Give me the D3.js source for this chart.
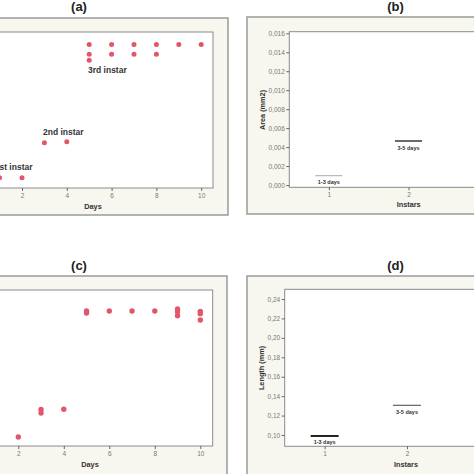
<!DOCTYPE html>
<html><head><meta charset="utf-8">
<script src="https://cdn.jsdelivr.net/npm/d3@7"></script>
<style>html,body{margin:0;padding:0;background:#fff;}svg{display:block;}</style>
</head><body>
<svg id="c" width="474" height="474"></svg>
<script>
// ---- data ----
// (a) area vs days
const daysA = [1, 2, 3, 4, 5, 5, 5, 6, 6, 7, 7, 8, 8, 9, 10];
const areaA = [0.00077, 0.00077, 0.00445, 0.00456, 0.01481, 0.01379, 0.01316, 0.01481, 0.01379, 0.01481, 0.01379, 0.01481, 0.01379, 0.01481, 0.01481];
// (c) length vs days
const daysC = [2, 3, 3, 4, 5, 5, 6, 7, 8, 9, 9, 9, 10, 10, 10];
const lenC  = [0.0979, 0.1263, 0.1226, 0.1265, 0.2277, 0.2256, 0.2277, 0.2277, 0.2277, 0.2297, 0.2269, 0.2228, 0.2273, 0.2249, 0.2184];
const dayTicks = [2, 4, 6, 8, 10];
// (b) / (d) means per instar
const instars = [1, 2];
const instarLabels = ["1-3 days", "3-5 days"];
const areaMean = [0.00098, 0.00464];
const lengthMean = [0.0990, 0.1306];
const areaTicks = [0, 0.002, 0.004, 0.006, 0.008, 0.010, 0.012, 0.014, 0.016];
const lengthTicks = [0.10, 0.12, 0.14, 0.16, 0.18, 0.20, 0.22, 0.24];
const stageLabels = ["1st instar", "2nd instar", "3rd instar"];

const svg = d3.select("#c");
const FONT = "'Liberation Sans', Arial, sans-serif";
const BG = "#f8f7ef", FRAME = "#9a9a9a", BOX = "#8a8a8a", PT = "#e2566a";
const fmt = d => d3.format(".3f")(d).replace(".", ",");
const fmt2 = d => d3.format(".2f")(d).replace(".", ",");

function frame(x, y, w, h) {
  svg.append("rect").attr("x", x).attr("y", y).attr("width", w).attr("height", h)
    .attr("fill", BG).attr("stroke", FRAME).attr("stroke-width", 1.5);
}
function box(x, y, w, h) {
  svg.append("rect").attr("x", x).attr("y", y).attr("width", w).attr("height", h)
    .attr("fill", "#fff").attr("stroke", BOX).attr("stroke-width", 1);
}
function title(t, x, y) {
  svg.append("text").attr("x", x).attr("y", y).attr("text-anchor", "middle")
    .attr("font-family", FONT).attr("font-weight", "bold").attr("font-size", 13)
    .attr("fill", "#222").text(t);
}
function styleAxis(g) {
  g.select(".domain").remove();
  g.selectAll(".tick line").attr("stroke", "#666");
  g.selectAll(".tick text").attr("font-family", FONT).attr("font-size", 6.5).attr("fill", "#777");
}
function axisTitle(t, x, y, rot) {
  const el = svg.append("text").attr("text-anchor", "middle")
    .attr("font-family", FONT).attr("font-weight", "bold").attr("font-size", 7.3).attr("fill", "#333").text(t);
  if (rot) el.attr("transform", `translate(${x},${y}) rotate(-90)`);
  else el.attr("x", x).attr("y", y);
}

// ---------- (a) ----------
frame(-10, 18, 238, 197);
box(-40, 32, 253, 156);
title("(a)", 79, 11);
const xA = d3.scaleLinear().domain([2, 10]).range([22, 201.2]);
const yA = d3.scaleLinear().domain([0, 0.016]).range([185, 33.3]);
svg.append("g").attr("transform", "translate(0,188)")
  .call(d3.axisBottom(xA).tickValues(dayTicks).tickSize(3).tickPadding(2)).call(styleAxis);
svg.selectAll(".ptA").data(daysA).join("circle").attr("class", "ptA")
  .attr("cx", d => xA(d)).attr("cy", (d, i) => yA(areaA[i])).attr("r", 2.5).attr("fill", PT);
axisTitle("Days", 93, 208.5);
const annA = [
  {t: stageLabels[0], day: 2, v: areaA[1], dx: 10.5, dy: -7.7, anchor: "end"},
  {t: stageLabels[1], day: 3, v: areaA[3], dx: -1.4, dy: -6.7, anchor: "start"},
  {t: stageLabels[2], day: 5, v: areaA[6], dx: -1.2, dy: 13, anchor: "start"}
];
svg.selectAll(".annA").data(annA).join("text").attr("class", "annA")
  .attr("x", d => xA(d.day) + d.dx).attr("y", d => yA(d.v) + d.dy)
  .attr("text-anchor", d => d.anchor)
  .attr("font-family", FONT).attr("font-weight", "bold").attr("font-size", 8.5).attr("fill", "#333")
  .text(d => d.t);

// ---------- (b) ----------
frame(247, 17, 260, 197);
box(289.3, 31.7, 240, 155.6);
title("(b)", 395.5, 11);
const xB = d3.scaleLinear().domain([0.5, 3.5]).range([289, 528]);
const yB = d3.scaleLinear().domain([0, 0.016]).range([185, 33.3]);
svg.append("g").attr("transform", "translate(0,187.3)")
  .call(d3.axisBottom(xB).tickValues(instars).tickFormat(d3.format("d")).tickSize(3).tickPadding(2)).call(styleAxis);
svg.append("g").attr("transform", "translate(289.3,0)")
  .call(d3.axisLeft(yB).tickValues(areaTicks).tickFormat(fmt).tickSize(3).tickPadding(1.5)).call(styleAxis);
const bStroke = ["#a8a8a8", "#6a6a6a"], bW = [1, 2];
svg.selectAll(".segB").data(instars).join("line").attr("class", "segB")
  .attr("x1", d => xB(d - 0.17)).attr("x2", d => xB(d + 0.17))
  .attr("y1", (d, i) => yB(areaMean[i])).attr("y2", (d, i) => yB(areaMean[i]))
  .attr("stroke", (d, i) => bStroke[i]).attr("stroke-width", (d, i) => bW[i]);
svg.selectAll(".labB").data(instars).join("text").attr("class", "labB")
  .attr("x", d => xB(d)).attr("y", (d, i) => yB(areaMean[i]) + 8.5)
  .attr("text-anchor", "middle").attr("font-family", FONT).attr("font-weight", "bold")
  .attr("font-size", 5.5).attr("fill", "#333").text((d, i) => instarLabels[i]);
axisTitle("Instars", 408.7, 206.7);
axisTitle("Area (mm2)", 264.5, 110, true);

// ---------- (c) ----------
frame(-10, 276, 237, 220);
box(-40, 290, 252.7, 156);
title("(c)", 79, 270);
const xC = d3.scaleLinear().domain([2, 10]).range([18.3, 200.3]);
const yC = d3.scaleLinear().domain([0.10, 0.24]).range([435, 299]);
svg.append("g").attr("transform", "translate(0,446)")
  .call(d3.axisBottom(xC).tickValues(dayTicks).tickSize(3).tickPadding(2)).call(styleAxis);
svg.selectAll(".ptC").data(daysC).join("circle").attr("class", "ptC")
  .attr("cx", d => xC(d)).attr("cy", (d, i) => yC(lenC[i])).attr("r", 2.7).attr("fill", PT);
axisTitle("Days", 90, 466.5);

// ---------- (d) ----------
frame(247, 276, 260, 220);
box(284.7, 289.3, 245, 157);
title("(d)", 395.5, 270);
const xD = d3.scaleLinear().domain([0.5, 3.5]).range([283.5, 530.4]);
const yD = d3.scaleLinear().domain([0.10, 0.24]).range([435, 299]);
svg.append("g").attr("transform", "translate(0,446.3)")
  .call(d3.axisBottom(xD).tickValues(instars).tickFormat(d3.format("d")).tickSize(3).tickPadding(2)).call(styleAxis);
svg.append("g").attr("transform", "translate(284.7,0)")
  .call(d3.axisLeft(yD).tickValues(lengthTicks).tickFormat(fmt2).tickSize(3).tickPadding(1.5)).call(styleAxis);
const dStroke = ["#222", "#444"], dW = [2, 1];
svg.selectAll(".segD").data(instars).join("line").attr("class", "segD")
  .attr("x1", d => xD(d - 0.17)).attr("x2", d => xD(d + 0.17))
  .attr("y1", (d, i) => yD(lengthMean[i])).attr("y2", (d, i) => yD(lengthMean[i]))
  .attr("stroke", (d, i) => dStroke[i]).attr("stroke-width", (d, i) => dW[i]);
svg.selectAll(".labD").data(instars).join("text").attr("class", "labD")
  .attr("x", d => xD(d)).attr("y", (d, i) => yD(lengthMean[i]) + 8.5)
  .attr("text-anchor", "middle").attr("font-family", FONT).attr("font-weight", "bold")
  .attr("font-size", 5.5).attr("fill", "#333").text((d, i) => instarLabels[i]);
axisTitle("Instars", 406, 466.5);
axisTitle("Length (mm)", 263.5, 368, true);
</script>
</body></html>
